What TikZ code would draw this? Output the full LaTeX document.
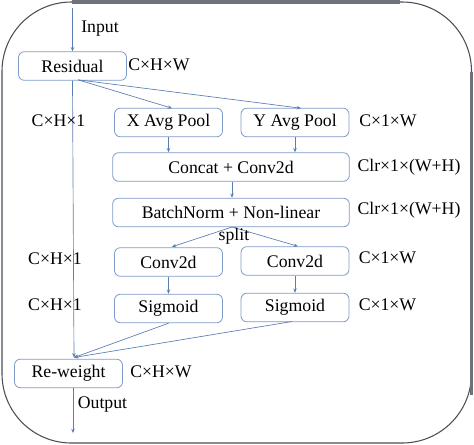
\documentclass[tikz,border=0pt]{standalone}
\usepackage{fontspec}
\setmainfont{Liberation Serif}
\usepackage{tikz}
\usetikzlibrary{arrows.meta}

\definecolor{linecol}{HTML}{5A7DB3}
\definecolor{boxcol}{HTML}{7D9AC8}
\definecolor{framecol}{HTML}{4A4F57}

\tikzset{
  blockbox/.style={draw=boxcol,line width=0.6pt,rounded corners=4.5pt,inner sep=0pt,
    minimum width=81pt,minimum height=21.5pt},
  widebox/.style={blockbox,minimum width=177.5pt},
  flow/.style={draw=linecol,line width=0.5pt,-{Stealth[length=3.2pt,width=2.6pt]}},
  dimlabel/.style={inner sep=0.75pt}
}

\begin{document}
\begin{tikzpicture}[x=0.75pt,y=0.75pt,yscale=-1,xscale=1,font=\fontsize{13.3}{16}\selectfont]
\useasboundingbox (0,0) rectangle (474,444);

%Shape: Rounded frame
\draw [framecol,line width=0.8pt,rounded corners=52pt] (2,2) rectangle (471.5,443);
\draw [framecol!80,line width=2.4pt] (72,2) -- (400,2) ;
\draw [framecol!80,line width=2.4pt] (471.5,72) -- (471.5,395) ;

% Blocks
\node [blockbox] (res) at (72.5,66) {Residual};
\node [blockbox] (xpool) at (168.5,122.5) {X Avg Pool};
\node [blockbox] (ypool) at (295,122.5) {Y Avg Pool};
\node [widebox] (concat) at (231,167) {Concat + Conv2d};
\node [widebox] (bn) at (231,212.5) {BatchNorm + Non-linear};
\node [blockbox] (convx) at (168.5,262) {Conv2d};
\node [blockbox] (convy) at (295,261) {Conv2d};
\node [blockbox] (sigx) at (168.5,308.5) {Sigmoid};
\node [blockbox] (sigy) at (295,307.5) {Sigmoid};
\node [blockbox] (rew) at (68.5,373.5) {Re-weight};

% Free ends
\coordinate (in) at (72.5,8);
\coordinate (resout) at (78,79.8);
\coordinate (merge) at (74,357.5);
\coordinate (out) at (73,433);
\coordinate (bnout) at (232,227);

% Connectors
\draw [flow] (in) -- (res.north);
\draw [flow] (resout) -- (172,108.2);
\draw [flow] (resout) -- (301,108.2);
\draw [flow] (res.south) -- (merge);
\draw [flow] (xpool.south) -- (xpool.south |- concat.north);
\draw [flow] (ypool.south) -- (ypool.south |- concat.north);
\draw [flow] (concat.south -| bnout) -- (bnout |- bn.north);
\draw [flow] (bnout) -- (172,246.8);
\draw [flow] (bnout) -- (298,246.3);
\draw [flow] (convx.south) -- (sigx.north);
\draw [flow] (convy.south) -- (sigy.north);
\draw [flow] (sigx.south) -- (merge);
\draw [flow] (292,321.5) -- (merge);
\draw [flow] (rew.south -| out) -- (out);

% Text Node
\node [dimlabel] (inlbl) at (100,29) {Input};
\node [dimlabel] (outlbl) at (102.5,405) {Output};
\node [dimlabel] (splitlbl) at (234,236.5) {split};
\node [dimlabel] (dres) at (159,65) {C×H×W};
\node [dimlabel] (dleft1) at (58.5,120.5) {C×H×1};
\node [dimlabel] (dleft2) at (55,259) {C×H×1};
\node [dimlabel] (dleft3) at (55,305) {C×H×1};
\node [dimlabel] (dright1) at (388,120.5) {C×1×W};
\node [dimlabel] (dright2) at (387.5,258) {C×1×W};
\node [dimlabel] (dright3) at (387.5,304.5) {C×1×W};
\node [dimlabel] (dcat) at (409,167) {Clr×1×(W+H)};
\node [dimlabel] (dbn) at (409,210.5) {Clr×1×(W+H)};
\node [dimlabel] (drew) at (161,371.5) {C×H×W};

\end{tikzpicture}
\end{document}
